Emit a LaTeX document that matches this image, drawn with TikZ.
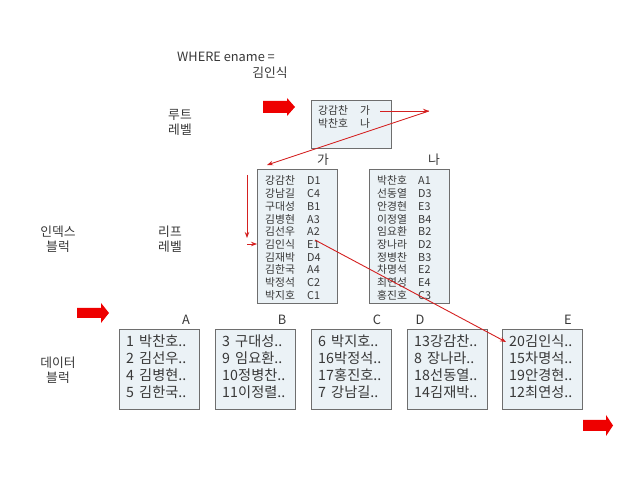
\documentclass[tikz,border=0pt]{standalone}
\usepackage{fontspec}
\setmainfont{Noto Sans CJK KR}
\usetikzlibrary{arrows.meta}
\definecolor{boxgray}{HTML}{6E6E6E}
\definecolor{boxfill}{HTML}{EBF2F6}
\definecolor{txtgray}{HTML}{383838}
\definecolor{bigred}{HTML}{EE0000}
\definecolor{linkred}{HTML}{D42020}
\newcommand\na[1]{\makebox[13pt][l]{#1}}
\newcommand\nd[1]{\makebox[16pt][l]{#1}}
\begin{document}
\begin{tikzpicture}[x=1pt,y=-1pt,
  box/.style={draw=boxgray, fill=boxfill, line width=0.8pt, inner sep=0pt, anchor=north west},
  lbl/.style={font=\fontsize{12.8}{15}\selectfont, inner sep=0pt, align=center, text=txtgray},
  leaftxt/.style={font=\fontsize{10.8}{12}\selectfont, inner sep=0pt, anchor=base west, text=txtgray},
  datatxt/.style={font=\fontsize{14.2}{17}\selectfont, inner sep=0pt, anchor=base west, text=txtgray},
  bigarrow/.style={fill=bigred},
  link/.style={draw=linkred, line width=0.9pt, -{Stealth[length=6pt,width=4.5pt]}}
]
\useasboundingbox (0,0) rectangle (638,478);

% labels
\node[lbl, anchor=west] (where) at (177,57) {WHERE ename =};
\node[lbl] (name) at (270,73) {김인식};
\node[lbl] (root) at (180,122.5) {루트\\레벨};
\node[lbl] (idx) at (58,239) {인덱스\\블럭};
\node[lbl] (leaf) at (170,239) {리프\\레벨};
\node[lbl] (data) at (58,370.5) {데이터\\블럭};

% block arrows
\fill[bigarrow] (263,101) -- (287,101) -- (287,98) -- (295,107) -- (287,116) -- (287,113) -- (263,113) -- cycle;
\fill[bigarrow] (77,308) -- (101,308) -- (101,303) -- (109,313) -- (101,323) -- (101,318) -- (77,318) -- cycle;
\fill[bigarrow] (583,420) -- (606,420) -- (606,415) -- (613,425.5) -- (606,436) -- (606,431) -- (583,431) -- cycle;

% root block
\node[box, minimum width=80pt, minimum height=48pt] (rootbox) at (311,100) {};
\node[leaftxt] (r1n) at (318,115) {강감찬};
\node[leaftxt] (r1c) at (360,115) {가};
\node[leaftxt] (r2n) at (318,128) {박찬호};
\node[leaftxt] (r2c) at (360,128) {나};

% leaf labels
\node[lbl] (ga) at (323,160) {가};
\node[lbl] (na) at (434,160) {나};

% leaf blocks
\node[box, minimum width=80pt, minimum height=134pt] (leafA) at (257,169) {};
\node[box, minimum width=80pt, minimum height=134pt] (leafB) at (369,169) {};
\foreach \n/\c [count=\i from 0] in {강감찬/D1,강남길/C4,구대성/B1,김병현/A3,김선우/A2,김인식/E1,김재박/D4,김한국/A4,박정석/C2,박지호/C1}{
  \node[leaftxt] (la\i) at (265,185+12.7*\i) {\n};
  \node[leaftxt] (lac\i) at (307,185+12.7*\i) {\c};
}
\foreach \n/\c [count=\i from 0] in {박찬호/A1,선동열/D3,안경현/E3,이정열/B4,임요환/B2,장나라/D2,정병찬/B3,차명석/E2,최연성/E4,홍진호/C3}{
  \node[leaftxt] (lb\i) at (377,185+12.7*\i) {\n};
  \node[leaftxt] (lbc\i) at (418,185+12.7*\i) {\c};
}

% data block labels
\node[lbl] (lA) at (186,320) {A};
\node[lbl] (lB) at (282,320) {B};
\node[lbl] (lC) at (377,320) {C};
\node[lbl] (lD) at (420,320) {D};
\node[lbl] (lE) at (568,320) {E};

% data blocks
\foreach \k/\x in {A/119,B/215,C/311,D/407,E/502}{
  \node[box, minimum width=80pt, minimum height=80pt] (d\k) at (\x,329) {};
}
\node[datatxt] (dA1) at (126,347) {\na{1 }박찬호..};
\node[datatxt] (dA2) at (126,364) {\na{2 }김선우..};
\node[datatxt] (dA3) at (126,381) {\na{4 }김병현..};
\node[datatxt] (dA4) at (126,398) {\na{5 }김한국..};
\node[datatxt] (dB1) at (222,347) {\na{3 }구대성..};
\node[datatxt] (dB2) at (222,364) {\na{9 }임요환..};
\node[datatxt] (dB3) at (222,381) {\nd{10}정병찬..};
\node[datatxt] (dB4) at (222,398) {\nd{11}이정렬..};
\node[datatxt] (dC1) at (318,347) {\na{6 }박지호..};
\node[datatxt] (dC2) at (318,364) {\nd{16}박정석..};
\node[datatxt] (dC3) at (318,381) {\nd{17}홍진호..};
\node[datatxt] (dC4) at (318,398) {\na{7 }강남길..};
\node[datatxt] (dD1) at (414,347) {\nd{13}강감찬..};
\node[datatxt] (dD2) at (414,364) {\na{8 }장나라..};
\node[datatxt] (dD3) at (414,381) {\nd{18}선동열..};
\node[datatxt] (dD4) at (414,398) {\nd{14}김재박..};
\node[datatxt] (dE1) at (509,347) {\nd{20}김인식..};
\node[datatxt] (dE2) at (509,364) {\nd{15}차명석..};
\node[datatxt] (dE3) at (509,381) {\nd{19}안경현..};
\node[datatxt] (dE4) at (509,398) {\nd{12}최연성..};

% connectors
\coordinate (turn) at (429,111);
\coordinate (rs) at (380,111);
\coordinate (leafhit) at (267,165);
\coordinate (vtop) at (247,175);
\coordinate (vbot) at (247,238);
\coordinate (hs) at (247,244);
\coordinate (hit) at (257,244);
\coordinate (e1s) at (315,240);
\coordinate (ehit) at (506,342);
\draw[link] (rs) -- (turn);
\draw[link] (turn) -- (leafhit);
\draw[link] (vtop) -- (vbot);
\draw[link] (hs) -- (hit);
\draw[link] (e1s) -- (ehit);
\end{tikzpicture}
\end{document}
